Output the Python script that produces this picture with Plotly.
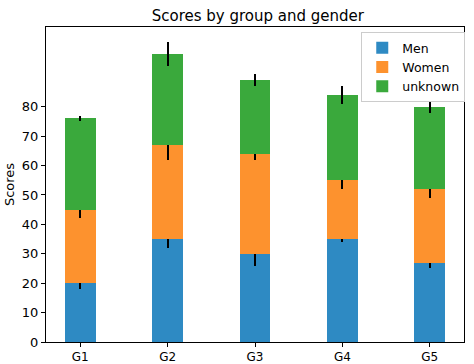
import plotly.graph_objects as go

groups = ["G1", "G2", "G3", "G4", "G5"]
men_means = [20, 35, 30, 35, 27]
women_means = [25, 32, 34, 20, 25]
unknown_means = [31, 31, 25, 29, 28]
men_std = [2, 3, 4, 1, 2]
women_std = [3, 5, 2, 3, 3]
unknown_std = [1, 4, 2, 3, 2]
y_ticks = [0, 10, 20, 30, 40, 50, 60, 70, 80]

colors = ["#2e8ac3", "#fd922e", "#3aa93c"]
font = "DejaVu Sans"

x = list(range(len(groups)))
fig = go.Figure()
for name, vals, err, col in [("Men", men_means, men_std, colors[0]),
                             ("Women", women_means, women_std, colors[1]),
                             ("unknown", unknown_means, unknown_std, colors[2])]:
    fig.add_trace(go.Bar(
        x=x, y=vals, name=name, width=0.35, marker=dict(color=col, line=dict(width=0)),
        error_y=dict(type="data", array=err, visible=True, color="black", thickness=2, width=0),
    ))

fig.update_layout(
    barmode="stack",
    width=474, height=364,
    margin=dict(l=46, r=10, t=27, b=22, autoexpand=False),
    paper_bgcolor="white", plot_bgcolor="white",
    font=dict(family=font, size=13, color="black"),
    title=dict(text="Scores by group and gender", x=0.544, xanchor="center", xref="container",
               y=1 - 16 / 364, yref="container", yanchor="middle",
               font=dict(size=15, family=font, color="black")),
    legend=dict(x=1.003, xanchor="right", y=0.984, yanchor="top", bgcolor="white",
                bordercolor="#cccccc", borderwidth=1, font=dict(size=12.5), tracegroupgap=0,
                traceorder="normal", itemwidth=30),
    showlegend=True,
)
fig.update_xaxes(range=[-0.3925, 4.3925], tickvals=x, ticktext=groups, ticks="outside", ticklen=4,
                 tickcolor="black", showline=True, linecolor="black", linewidth=1, mirror=True,
                 showgrid=False, zeroline=False, tickfont=dict(size=12), automargin=False)
fig.update_yaxes(range=[0, 107.1], tickvals=y_ticks, ticks="outside", ticklen=4, tickcolor="black",
                 showline=True, linecolor="black", linewidth=1, mirror=True, showgrid=False,
                 zeroline=False, tickfont=dict(size=13), automargin=False,
                 title=dict(text="Scores", font=dict(size=13), standoff=4))

fig.write_html("out.html", config={"displayModeBar": False},
               post_script="document.body.style.margin='0';document.body.style.overflow='hidden';")
